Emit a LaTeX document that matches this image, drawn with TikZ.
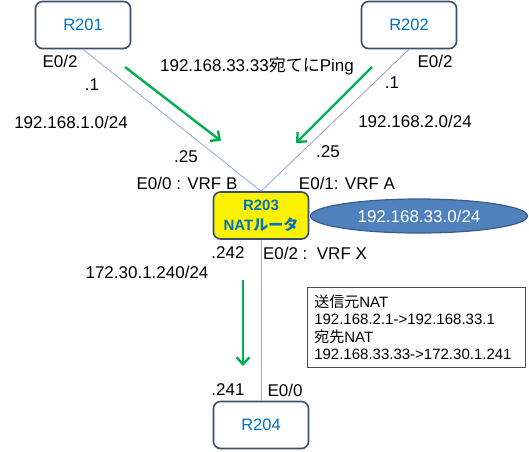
\documentclass[tikz,border=0pt]{standalone}
\usepackage{fontspec}
\setmainfont{Liberation Sans}
\newfontfamily\jpfont{Noto Sans CJK JP}
\usetikzlibrary{arrows.meta,shapes.geometric}
\definecolor{rblue}{RGB}{0,112,192}
\definecolor{rborder}{RGB}{56,80,110}
\definecolor{lnk}{RGB}{142,169,219}
\definecolor{garrow}{RGB}{0,176,80}
\definecolor{ellfill}{RGB}{79,129,189}
\definecolor{ellborder}{RGB}{56,93,138}
\tikzset{
  router/.style={draw=rborder, line width=1.6pt, rounded corners=7pt, fill=white,
    minimum width=95pt, minimum height=47pt, text=rblue, font=\fontsize{16.5}{19}\selectfont},
  natrouter/.style={router, fill=yellow, font=\fontsize{15}{20}\selectfont\bfseries, align=center},
  link/.style={draw=lnk, line width=0.8pt},
  flow/.style={draw=garrow, line width=2.4pt, -{Straight Barb[length=7pt,width=13pt,line width=2.4pt]}},
  lbl/.style={font=\fontsize{17}{19}\selectfont, inner sep=0pt},
  note/.style={draw=black!70, line width=0.6pt, fill=white, align=left, inner xsep=7pt, inner ysep=4pt,
    font=\fontsize{15}{17.3}\selectfont, text width=204pt, minimum height=80pt}
}
\begin{document}
\begin{tikzpicture}[x=1pt,y=-1pt]
\useasboundingbox[fill=white] (0,0) rectangle (529,451);
% routers
\node[router] (r201) at (83,25) {R201};
\node[router] (r202) at (409,25) {R202};
\node[natrouter] (r203) at (261,215.5) {R203\\NAT{\jpfont ルータ}};
\node[router] (r204) at (261,425) {R204};
\node[ellipse, draw=ellborder, line width=1.2pt, fill=ellfill, text=white,
  minimum width=217pt, minimum height=34pt, inner sep=0pt,
  font=\fontsize{17}{19}\selectfont] (net) at (419,216) {192.168.33.0/24};
% links
\draw[link] (r201.south) -- (r203.north);
\draw[link] (r202.south) -- (r203.north);
\draw[link] (r203.south) -- (r204.north);
% flow arrows
\coordinate (a1s) at (125,67);
\coordinate (a1e) at (221,141);
\coordinate (a2s) at (372,67);
\coordinate (a2e) at (296,143);
\coordinate (a3s) at (243,280);
\coordinate (a3e) at (243,366);
\draw[flow] (a1s) -- (a1e);
\draw[flow] (a2s) -- (a2e);
\draw[flow] (a3s) -- (a3e);
% labels
\node[lbl] (l1) at (60,61) {E0/2};
\node[lbl] (l2) at (92,85) {.1};
\node[lbl] (l3) at (71,122) {192.168.1.0/24};
\node[lbl] (l4) at (186,157) {.25};
\node[lbl] (l5) at (187,183) {E0/0 : VRF B};
\node[lbl] (l6) at (257,66) {192.168.33.33{\jpfont 宛てに}Ping};
\node[lbl] (l7) at (435,61) {E0/2};
\node[lbl] (l8) at (392,83) {.1};
\node[lbl] (l9) at (415,121) {192.168.2.0/24};
\node[lbl] (l10) at (328,152) {.25};
\node[lbl] (l11) at (347,183) {E0/1: VRF A};
\node[lbl] (l12) at (228,253) {.242};
\node[lbl] (l13) at (315,253) {E0/2 :\ \ VRF X};
\node[lbl] (l14) at (147,272) {172.30.1.240/24};
\node[lbl] (l15) at (228,390) {.241};
\node[lbl] (l16) at (285,390) {E0/0};
\node[note, anchor=north west] (box) at (307,287) {{\jpfont 送信元}NAT\\192.168.2.1->192.168.33.1\\{\jpfont 宛先}NAT\\192.168.33.33->172.30.1.241};
\end{tikzpicture}
\end{document}
